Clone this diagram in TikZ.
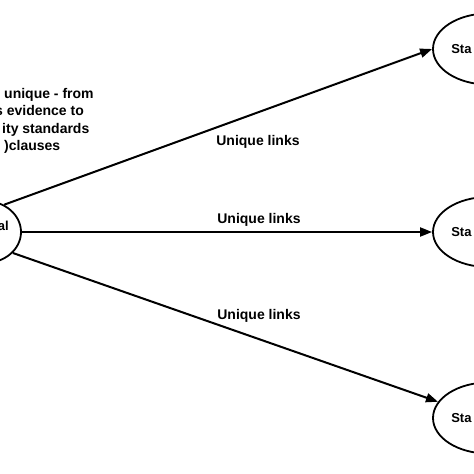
\documentclass[tikz,border=0pt]{standalone}
\usepackage{fontspec}
\setmainfont{Liberation Sans}
\usepackage{tikz}
\usetikzlibrary{positioning}
\usetikzlibrary{shapes.geometric, arrows.meta}
\tikzstyle{state} = [ellipse, draw=black, line width=1.8pt, inner sep=0pt]
\tikzstyle{lbl} = [inner sep=0pt, font=\bfseries\fontsize{14}{17.5}\selectfont]
\tikzstyle{small} = [inner sep=0pt, font=\bfseries\fontsize{13}{15}\selectfont]
\tikzstyle{arrow} = [line width=2pt,-{Triangle[length=12pt,width=9pt]}]

\begin{document}
\begin{tikzpicture}[x=1pt,y=-1pt]
\useasboundingbox (0,0) rectangle (474,474);
\clip (0,0) rectangle (474,474);
\draw (-15,232) node (n0) [state, minimum width=72pt, minimum height=62pt] {};
\draw (488,49) node (n1) [state, minimum width=110pt, minimum height=71pt] {};
\draw (488,232) node (n2) [state, minimum width=110pt, minimum height=70pt] {};
\draw (488,418) node (n3) [state, minimum width=110pt, minimum height=71pt] {};
\node (a0) [small, anchor=east, left=13pt of n0.east, yshift=6pt] {al};
\node (a1) [small, anchor=west, right=19pt of n1.west] {Sta};
\node (a2) [small, anchor=west, right=19pt of n2.west] {Sta};
\node (a3) [small, anchor=west, right=19pt of n3.west] {Sta};
\node (txt) [lbl, anchor=north west, align=left] at (-5,88)
  {\hspace*{9pt}unique - from\\ s evidence to\\ \hspace*{7pt}ity standards\\ \hspace*{9pt})clauses};
\draw[arrow] (n0.55)--(n1.west);
\draw[arrow] (n0.east)--(n2.west);
\draw[arrow] (n0.-37)--(n3.162);
\node (l1) [lbl] at (258,142) {Unique links};
\node (l2) [lbl] at (259,220) {Unique links};
\node (l3) [lbl] at (259,316) {Unique links};
\end{tikzpicture}
\end{document}
